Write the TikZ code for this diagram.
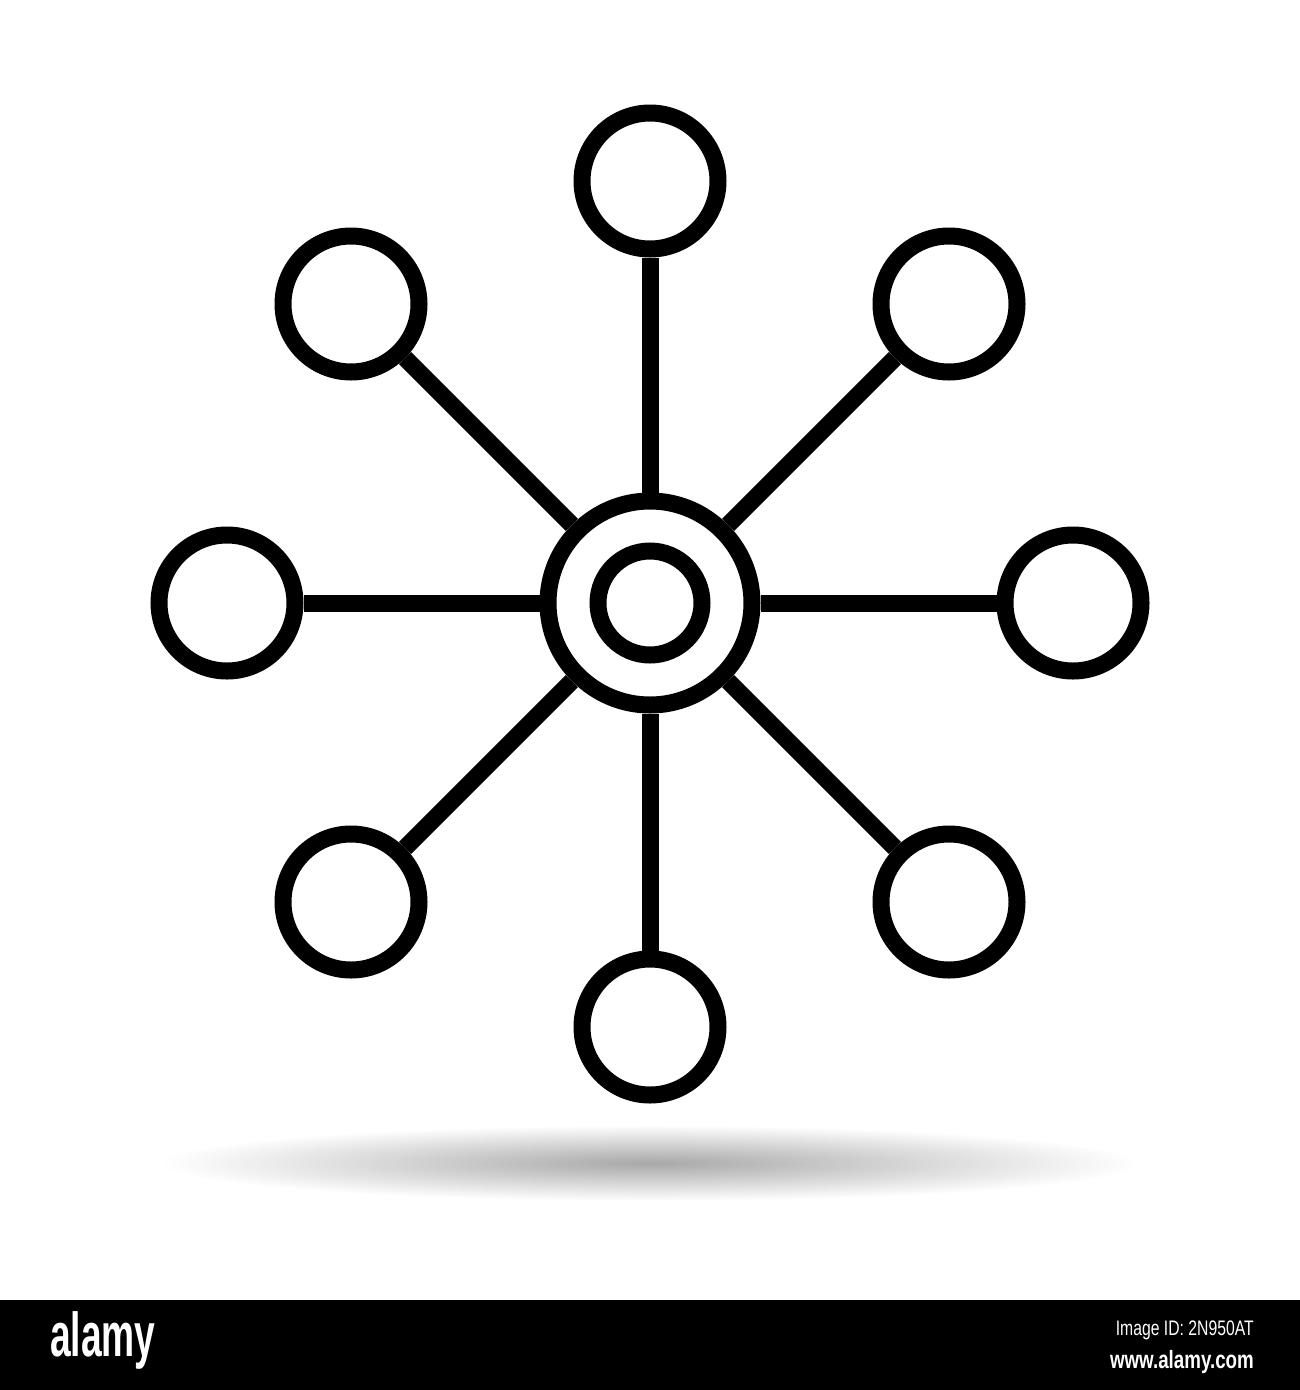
\documentclass[tikz,border=0pt]{standalone}
\usepackage{fontspec}
\setmainfont{Liberation Sans}
\begin{document}
\begin{tikzpicture}[x=1pt,y=-1pt,
  leaf/.style={circle,draw=black,line width=17pt,minimum size=136pt,inner sep=0pt},
  spoke/.style={line width=17pt,draw=black},
  wm/.style={text=white,inner sep=0pt}]
\useasboundingbox (0,0) rectangle (1300,1390);
\fill[white] (0,0) rectangle (1300,1300);
% shadow
\shade[inner color=black!34,outer color=white] (650,1163) ellipse [x radius=490,y radius=38];
% hub
\node[circle,draw=black,line width=17pt,minimum size=204pt,inner sep=0pt] (hub) at (650,603) {};
\node[circle,draw=black,line width=17pt,minimum size=104pt,inner sep=0pt] (core) at (650,603) {};
% leaves
\node[leaf] (n) at (650,181) {};
\node[leaf] (s) at (650,1027) {};
\node[leaf] (w) at (227,603) {};
\node[leaf] (e) at (1073,603) {};
\node[leaf] (nw) at (351,304) {};
\node[leaf] (ne) at (949,304) {};
\node[leaf] (sw) at (351,902) {};
\node[leaf] (se) at (949,902) {};
\foreach \t in {n,s,w,e,nw,ne,sw,se}{\draw[spoke] (hub) -- (\t);}
% watermark bar
\fill[black] (0,1300) rectangle (1300,1390);
\node[wm,anchor=west] (logo) at (50,1340) {\scalebox{0.6}[1]{\fontsize{62}{62}\selectfont\bfseries alamy}};
\node[wm,anchor=east] (imgid) at (1254,1330) {\scalebox{0.75}[1]{\fontsize{21}{21}\selectfont Image ID: 2N950AT}};
\node[wm,anchor=east] (url) at (1254,1362) {\scalebox{0.75}[1]{\fontsize{25}{25}\selectfont\bfseries www.alamy.com}};
\end{tikzpicture}
\end{document}
